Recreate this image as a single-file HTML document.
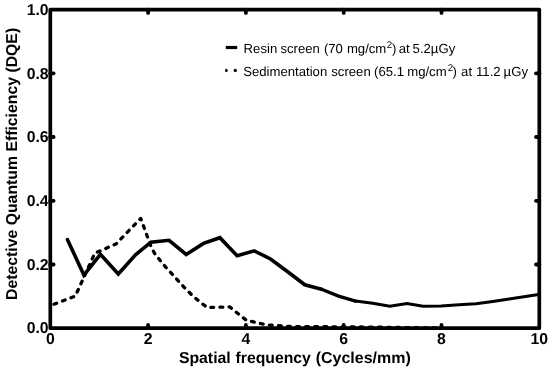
<!DOCTYPE html>
<html><head><meta charset="utf-8"><title>DQE vs spatial frequency</title>
<style>
html,body{margin:0;padding:0;background:#fff}
svg{display:block}
text{font-family:"Liberation Sans",Arial,sans-serif;fill:#000;text-rendering:geometricPrecision}
.b text{font-weight:bold;font-size:15.8px}
.lg text{font-size:13.15px}
</style></head>
<body>
<svg width="550" height="371" viewBox="0 0 550 371">
<rect width="550" height="371" fill="#fff"/>
<rect x="50.3" y="9.6" width="489.0" height="318.6" fill="none" stroke="#000" stroke-width="3.7" stroke-linejoin="round"/>
<g stroke="#000" stroke-width="3.8" stroke-linecap="round"><line x1="148.1" y1="328.2" x2="148.1" y2="324.9"/><line x1="148.1" y1="9.6" x2="148.1" y2="12.9"/><line x1="245.9" y1="328.2" x2="245.9" y2="324.9"/><line x1="245.9" y1="9.6" x2="245.9" y2="12.9"/><line x1="343.7" y1="328.2" x2="343.7" y2="324.9"/><line x1="343.7" y1="9.6" x2="343.7" y2="12.9"/><line x1="441.5" y1="328.2" x2="441.5" y2="324.9"/><line x1="441.5" y1="9.6" x2="441.5" y2="12.9"/><line x1="50.3" y1="264.5" x2="53.6" y2="264.5"/><line x1="539.3" y1="264.5" x2="536.0" y2="264.5"/><line x1="50.3" y1="200.8" x2="53.6" y2="200.8"/><line x1="539.3" y1="200.8" x2="536.0" y2="200.8"/><line x1="50.3" y1="137.0" x2="53.6" y2="137.0"/><line x1="539.3" y1="137.0" x2="536.0" y2="137.0"/><line x1="50.3" y1="73.3" x2="53.6" y2="73.3"/><line x1="539.3" y1="73.3" x2="536.0" y2="73.3"/></g>
<polyline points="51.0,305.4 75.3,296.1 94.8,253.2 116.0,244.0 140.7,218.4 150.8,246.0 154.7,253.6 160.7,261.2 166.7,268.3 173.0,275.0 179.5,282.3 186.1,289.3 192.3,295.4 198.9,301.1 207.2,307.5 229.7,306.9 246.3,320.2 265.9,324.8 290.0,326.5 360.0,327.0 440.0,328.0" fill="none" stroke="#000" stroke-width="3.3" stroke-dasharray="2.8 6.3" stroke-dashoffset="5.9" stroke-linecap="round" stroke-linejoin="round"/>
<polyline points="67.5,239.7 83.9,275.0 100.4,254.3 118.3,274.0 135.5,254.9 150.9,242.2 169.0,240.3 186.2,254.5 203.5,243.4 219.9,237.7 237.1,255.7 254.2,250.8 270.5,259.0 287.7,271.7 304.8,284.8 321.5,289.2" fill="none" stroke="#000" stroke-width="3.6" stroke-linejoin="miter" stroke-linecap="round"/>
<polyline points="321.5,289.2 338.6,296.1 355.5,301.1" fill="none" stroke="#000" stroke-width="3.3" stroke-linejoin="miter" stroke-linecap="round"/>
<polyline points="355.5,301.1 372.6,303.2 389.8,306.3 407.0,303.6 423.2,306.3 441.1,306.0 459.1,304.7 476.0,303.7 492.7,301.4 509.1,299.0 525.5,296.5 538.5,294.4" fill="none" stroke="#000" stroke-width="3.0" stroke-linejoin="miter" stroke-linecap="round"/>
<g class="b"><text x="50.3" y="344" text-anchor="middle">0</text><text x="148.1" y="344" text-anchor="middle">2</text><text x="245.9" y="344" text-anchor="middle">4</text><text x="343.7" y="344" text-anchor="middle">6</text><text x="441.5" y="344" text-anchor="middle">8</text><text x="539.3" y="344" text-anchor="middle">10</text><text x="48.6" y="333.3" text-anchor="end">0.0</text><text x="48.6" y="270.1" text-anchor="end">0.2</text><text x="48.6" y="206.4" text-anchor="end">0.4</text><text x="48.6" y="141.9" text-anchor="end">0.6</text><text x="48.6" y="78.9" text-anchor="end">0.8</text><text x="48.6" y="15.2" text-anchor="end">1.0</text>
<text transform="translate(178.9,363.1) scale(1,1)">Spatial</text>
<text transform="translate(235.5,363.1) scale(0.998,1)">frequency</text>
<text transform="translate(315.65,363.1) scale(1.013,1)">(Cycles/mm)</text>
<text transform="translate(16.9,163.9) rotate(-90)" text-anchor="middle" style="font-size:15.8px">Detective Quantum Efficiency (DQE)</text>
</g>
<g class="lg">
<line x1="225.8" y1="47.5" x2="237.2" y2="47.5" stroke="#000" stroke-width="3.2"/>
<clipPath id="hc"><rect x="225.2" y="60" width="8" height="20"/></clipPath>
<circle cx="226.1" cy="70.4" r="1.65" fill="#000" clip-path="url(#hc)"/><circle cx="235.3" cy="70.4" r="1.7" fill="#000"/>
<text><tspan x="243.6" y="53.4">Resin</tspan> <tspan x="280.4" y="53.4">screen</tspan> <tspan x="323.9" y="53.4">(70</tspan> <tspan x="346.9" y="53.4">mg/cm</tspan><tspan x="386.7" y="47.6" font-size="9.7">2</tspan><tspan x="392.0" y="53.4">)</tspan> <tspan x="398.8" y="53.4">at</tspan> <tspan x="412.6" y="53.4">5.2µGy</tspan></text>
<text><tspan x="243.2" y="76.4">Sedimentation</tspan> <tspan x="331.3" y="76.4">screen</tspan> <tspan x="374.0" y="76.4">(65.1</tspan> <tspan x="407.2" y="76.4">mg/cm</tspan><tspan x="447.7" y="70.6" font-size="9.7">2</tspan><tspan x="452.4" y="76.4">)</tspan> <tspan x="461.1" y="76.4">at</tspan> <tspan x="476.0" y="76.4">11.2</tspan> <tspan x="503.6" y="76.4">µGy</tspan></text>
</g>
</svg>
</body></html>
